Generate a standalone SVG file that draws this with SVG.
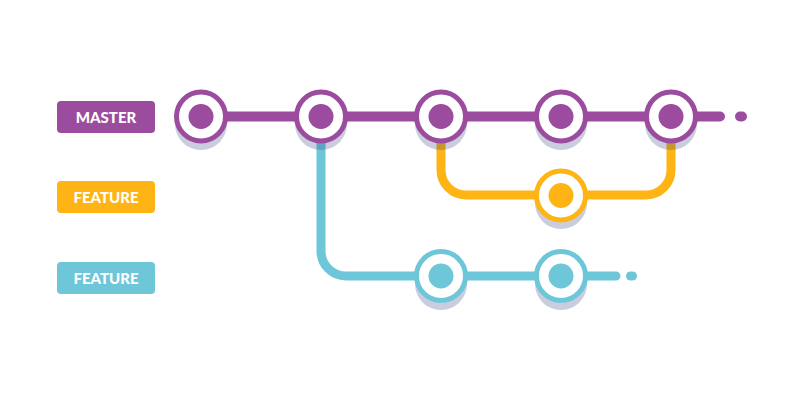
<svg xmlns="http://www.w3.org/2000/svg" width="801" height="400" viewBox="0 0 801 400">
<defs>
<style>
.lbl{font-family:Lato,"Open Sans","Liberation Sans",sans-serif;font-weight:900;font-size:15px;fill:#fff;text-anchor:middle}
.ln{fill:none;stroke-linecap:round;stroke-linejoin:round}
.shadow{fill:#3c4682;fill-opacity:0.27}
.ring{fill:#fff;stroke-width:5}
.p{stroke:#9b4c9e}
.y{stroke:#fdb414}
.t{stroke:#6dc7d8}
.pf{fill:#9b4c9e}
.yf{fill:#fdb414}
.tf{fill:#6dc7d8}
</style>
</defs>
<rect width="801" height="400" fill="#fff"/>
<g id="labels">
<g id="label-master"><rect x="57" y="101" width="98" height="32" rx="4" class="pf"/><text x="106" y="122.5" class="lbl">MASTER</text></g>
<g id="label-feature-yellow"><rect x="57" y="181" width="98" height="32" rx="4" class="yf"/><text x="106" y="202.5" class="lbl">FEATURE</text></g>
<g id="label-feature-teal"><rect x="57" y="262" width="98" height="32" rx="4" class="tf"/><text x="106" y="283.5" class="lbl">FEATURE</text></g>
</g>
<g id="connectors">
<path class="ln p" stroke-width="10" d="M201 116.5 H720"/>
<path class="ln p" stroke-width="10" d="M740 116.5 H742"/>
<path class="ln y" stroke-width="9" d="M441 116.5 V170 A25 25 0 0 0 466 195 H646 A25 25 0 0 0 671 170 V116.5"/>
<path class="ln t" stroke-width="9" d="M321 116.5 V251 A25 25 0 0 0 346 276 H616"/>
<path class="ln t" stroke-width="9" d="M630.5 276 H632.5"/>
</g>
<g id="shadows">
<circle class="shadow" cx="201" cy="124" r="26"/>
<circle class="shadow" cx="321" cy="124" r="26"/>
<circle class="shadow" cx="441" cy="124" r="26"/>
<circle class="shadow" cx="561" cy="124" r="26"/>
<circle class="shadow" cx="671" cy="124" r="26"/>
<circle class="shadow" cx="561" cy="203" r="26"/>
<circle class="shadow" cx="441" cy="284" r="26"/>
<circle class="shadow" cx="561" cy="284" r="26"/>
</g>
<g id="commit-m1"><circle class="ring p" cx="201" cy="116.5" r="24.5"/><circle class="pf" cx="201" cy="116.5" r="12.5"/></g>
<g id="commit-m2"><circle class="ring p" cx="321" cy="116.5" r="24.5"/><circle class="pf" cx="321" cy="116.5" r="12.5"/></g>
<g id="commit-m3"><circle class="ring p" cx="441" cy="116.5" r="24.5"/><circle class="pf" cx="441" cy="116.5" r="12.5"/></g>
<g id="commit-m4"><circle class="ring p" cx="561" cy="116.5" r="24.5"/><circle class="pf" cx="561" cy="116.5" r="12.5"/></g>
<g id="commit-m5"><circle class="ring p" cx="671" cy="116.5" r="24.5"/><circle class="pf" cx="671" cy="116.5" r="12.5"/></g>
<g id="commit-y1"><circle class="ring y" cx="561" cy="195.5" r="24.5"/><circle class="yf" cx="561" cy="195.5" r="12.5"/></g>
<g id="commit-t1"><circle class="ring t" cx="441" cy="276" r="24.5"/><circle class="tf" cx="441" cy="276" r="12.5"/></g>
<g id="commit-t2"><circle class="ring t" cx="561" cy="276" r="24.5"/><circle class="tf" cx="561" cy="276" r="12.5"/></g>
</svg>
